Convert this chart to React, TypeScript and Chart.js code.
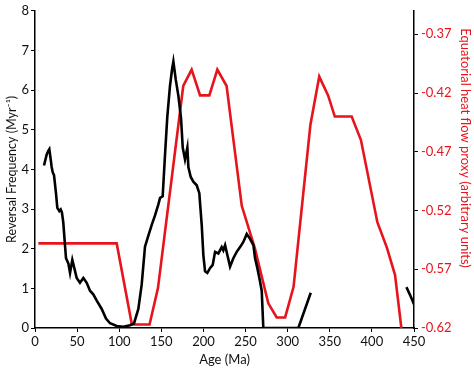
import React, { useEffect, useRef } from "react";
import { Chart, registerables } from "chart.js";

Chart.register(...registerables);

const blackAges: (number)[] = [
  10.7, 13.9, 15.8, 17, 18.6, 19.8, 21, 22.6, 24.9, 26.5, 28.9, 30.5, 32, 33.6, 35.6, 36.8, 39.6, 41.6, 44.3, 46.7,
  49.5, 53.4, 57.4, 61.4, 65.3, 69.2, 73.3, 79.2, 84.3, 89.1, 97, 104.9, 112.8, 117.6, 122.7, 126.7, 130.6, 134.6,
  138.6, 142.5, 146.4, 148.5, 151.6, 154.4, 157.1, 160.3, 162.7, 164.3, 167.1, 170.2, 173.4, 175.4, 178.1, 180.9,
  182.1, 184.9, 188, 192, 195.1, 198, 199.9, 201.9, 204.6, 207.8, 211, 213.8, 217.7, 221.7, 223.6, 225.7, 228.4,
  231.6, 235.5, 239.5, 243.5, 247.4, 251.4, 255.3, 259.3, 261.3, 264, 266.4, 269.2, 271.1, 312.7, 327.4, 380, 441,
  446, 450,
];
const blackValues: (number | null)[] = [
  4.1, 4.38, 4.47, 4.51, 4.26, 4.06, 3.93, 3.85, 3.4, 3.03, 2.95, 2.99, 2.91, 2.66, 2.09, 1.76, 1.63, 1.39, 1.72, 1.51,
  1.26, 1.14, 1.26, 1.14, 0.94, 0.85, 0.69, 0.48, 0.24, 0.12, 0.05, 0.03, 0.07, 0.12, 0.48, 1.1, 2.05, 2.33,
  2.6, 2.84, 3.11, 3.28, 3.32, 4.38, 5.33, 6.11, 6.52, 6.72, 6.27, 5.86, 5.29, 4.55, 4.25, 4.55,
  4.06, 3.81, 3.69, 3.6, 3.4, 2.58, 1.84, 1.43, 1.39, 1.51, 1.59, 1.92, 1.88, 2.04, 1.96, 2.09, 1.84,
  1.55, 1.76, 1.92, 2.04, 2.17, 2.37, 2.25, 2.09, 1.76, 1.51, 1.26, 0.94, 0, 0, 0.89, null, 1.03,
  0.8, 0.6,
];

const redAges: number[] = [
  4, 97, 115, 136, 146, 176, 186, 196, 207, 216.5, 227.5, 245.5, 261, 277, 287, 297, 307, 327, 337.5, 348, 356, 376,
  387, 406.5, 418, 427.5, 435,
];
const redValues: number[] = [
  -0.548, -0.548, -0.617, -0.617, -0.586, -0.414, -0.4, -0.422, -0.422, -0.4, -0.414, -0.516, -0.552, -0.599, -0.611,
  -0.611, -0.585, -0.447, -0.406, -0.422, -0.44, -0.44, -0.46, -0.53, -0.552, -0.575, -0.62,
];

const xTicks: number[] = [0, 50, 100, 150, 200, 250, 300, 350, 400, 450];
const leftTicks: number[] = [0, 1, 2, 3, 4, 5, 6, 7, 8];
const rightTicks: number[] = [-0.62, -0.57, -0.52, -0.47, -0.42, -0.37];

const RED = "rgb(232,20,28)";
const FONT = "Lato, 'Open Sans', sans-serif";
const RIGHT_TITLE = "Equatorial heat flow proxy (arbitrary units)";

const rightTitlePlugin = {
  id: "rightTitle",
  afterDraw(chart: any) {
    const ctx = chart.ctx;
    ctx.save();
    ctx.translate(chart.width - 9, 148);
    ctx.rotate(Math.PI / 2);
    ctx.font = `13px ${FONT}`;
    ctx.fillStyle = RED;
    ctx.textAlign = "center";
    ctx.textBaseline = "middle";
    ctx.fillText(RIGHT_TITLE, 0, 0);
    ctx.restore();
  },
};

export default function App() {
  const ref = useRef<HTMLCanvasElement | null>(null);
  useEffect(() => {
    if (!ref.current) return;
    const chart = new Chart(ref.current, {
      type: "line",
      data: {
        datasets: [
          {
            label: "Reversal frequency",
            data: blackAges.map((a, i) => ({ x: a, y: blackValues[i] })),
            borderColor: "#000",
            borderWidth: 2.6,
            pointRadius: 0,
            spanGaps: false,
            yAxisID: "y",
            tension: 0,
          },
          {
            label: "Heat flow proxy",
            data: redAges.map((a, i) => ({ x: a, y: redValues[i] })),
            borderColor: RED,
            borderWidth: 2.6,
            pointRadius: 0,
            yAxisID: "y2",
            tension: 0,
          },
        ],
      },
      plugins: [rightTitlePlugin],
      options: {
        animation: false,
        responsive: true,
        maintainAspectRatio: false,
        layout: { padding: { top: 3, left: 0, right: 0, bottom: 0 } },
        plugins: { legend: { display: false }, tooltip: { enabled: false } },
        scales: {
          x: {
            type: "linear",
            min: 0,
            max: 450,
            afterBuildTicks: (s: any) => {
              s.ticks = xTicks.map((v) => ({ value: v }));
            },
            afterFit: (s: any) => {
              s.height = 40;
            },
            grid: { drawOnChartArea: false, drawTicks: true, tickLength: 4, color: "#000" },
            border: { display: true, color: "#000", width: 1.5 },
            ticks: { color: "#111", font: { family: FONT, size: 13 }, padding: 2, maxRotation: 0 },
            title: {
              display: true,
              text: "Age (Ma)",
              color: "#111",
              font: { family: FONT, size: 13 },
              padding: { top: 0, bottom: 0 },
            },
          },
          y: {
            type: "linear",
            position: "left",
            min: 0,
            max: 8,
            afterBuildTicks: (s: any) => {
              s.ticks = leftTicks.map((v) => ({ value: v }));
            },
            afterFit: (s: any) => {
              s.width = 35;
            },
            grid: { drawOnChartArea: false, drawTicks: true, tickLength: 4, color: "#000" },
            border: { display: true, color: "#000", width: 1.5 },
            ticks: { color: "#111", font: { family: FONT, size: 13 }, padding: 2 },
            title: {
              display: true,
              text: "Reversal Frequency (Myr\u207B\u00B9)",
              color: "#111",
              font: { family: FONT, size: 12.5 },
              padding: { top: 4, bottom: 0 },
            },
          },
          y2: {
            type: "linear",
            position: "right",
            min: -0.62,
            max: -0.35,
            afterBuildTicks: (s: any) => {
              s.ticks = rightTicks.map((v) => ({ value: v }));
            },
            afterFit: (s: any) => {
              s.width = 60;
            },
            grid: { drawOnChartArea: false, drawTicks: true, tickLength: 4, color: "#000" },
            border: { display: true, color: "#000", width: 1.5 },
            ticks: {
              color: RED,
              font: { family: FONT, size: 13 },
              padding: 3,
              callback: (v: any) => Number(v).toFixed(2),
            },
            title: { display: false },
          },
        },
      },
    });
    return () => chart.destroy();
  }, []);
  return (
    <div style={{ position: "fixed", left: 0, top: 0, width: 474, height: 368, background: "#fff" }}>
      <canvas ref={ref} />
    </div>
  );
}
